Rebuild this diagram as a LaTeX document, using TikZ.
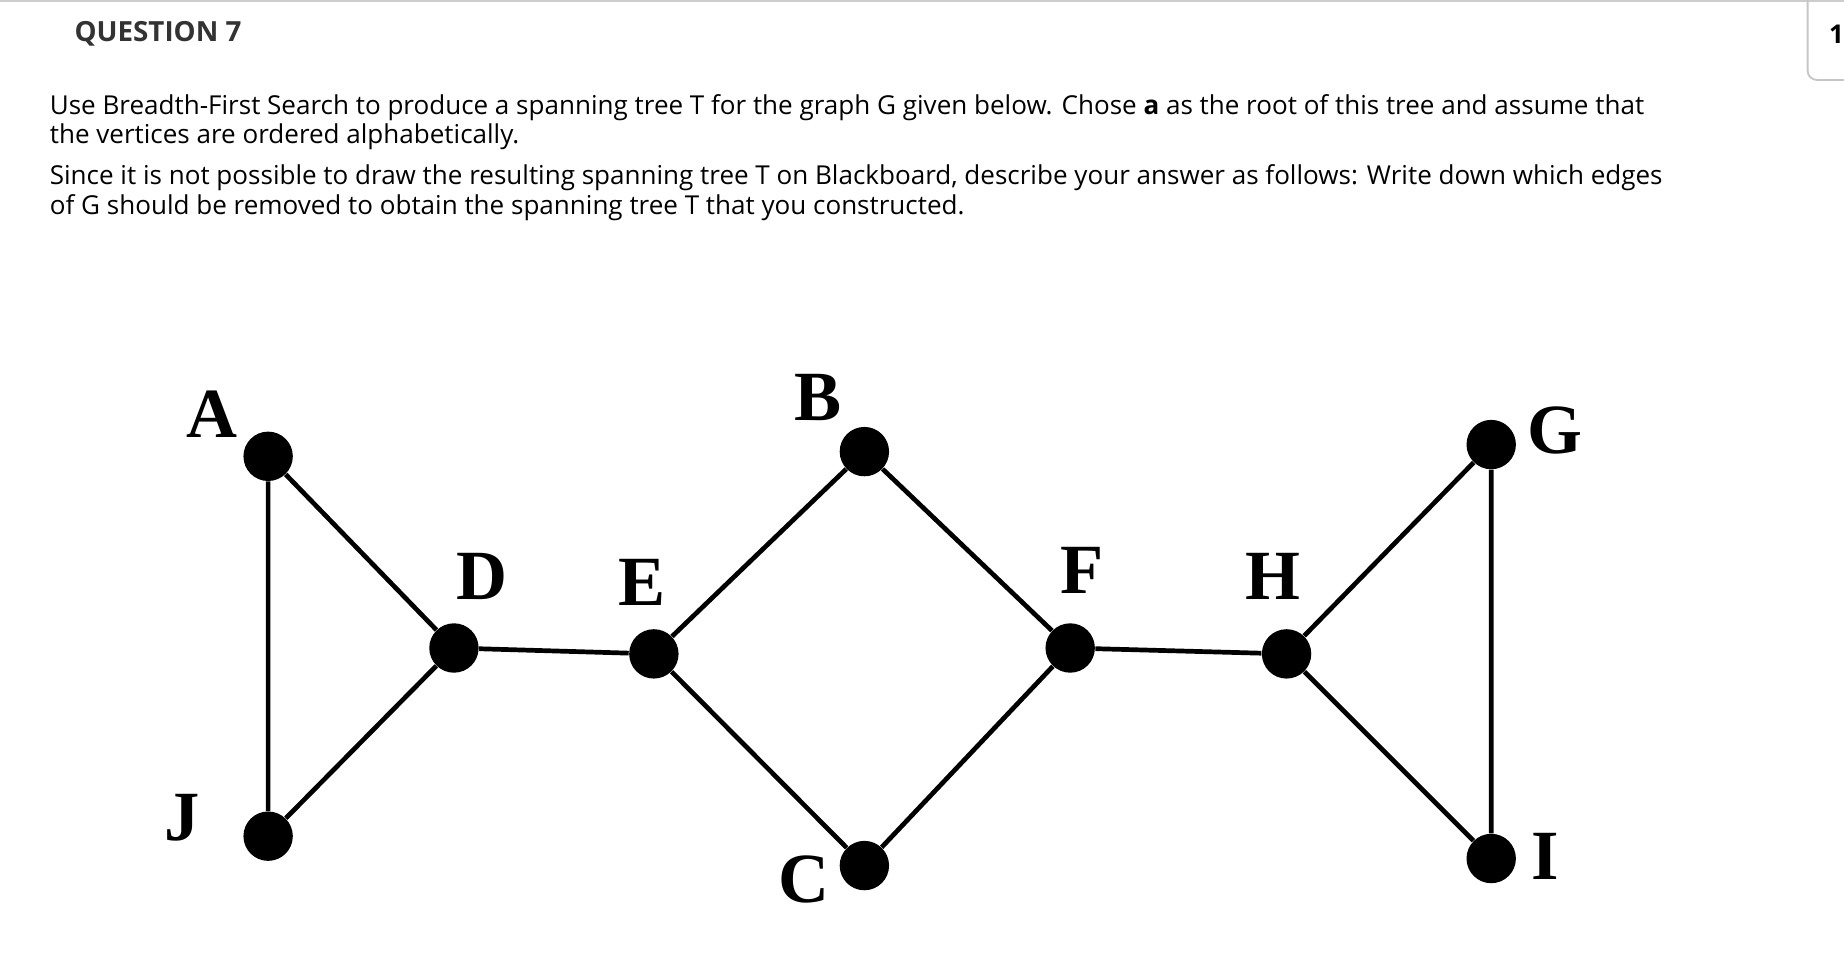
\documentclass[tikz,border=0pt]{standalone}
\usepackage{fontspec}
\setmainfont{Open Sans}
\newfontfamily\gfont{Liberation Serif}
\begin{document}
\begin{tikzpicture}[x=0.5pt,y=-0.5pt,
  vtx/.style={circle,fill=black,inner sep=0pt,minimum size=21pt},
  lbl/.style={font=\gfont\bfseries\fontsize{30}{30}\selectfont},
  txt/.style={anchor=base west,inner sep=0pt,font=\fontsize{11.07}{12}\selectfont}]
\useasboundingbox (0,0) rectangle (1568,811);
\draw[gray!40,line width=1pt] (0,1) -- (1568,1);
\draw[gray!45,line width=0.8pt,rounded corners=4pt] (1537,0) -- (1537,68) -- (1580,68);
\node[anchor=base west,inner sep=0pt,font=\bfseries\fontsize{11}{12}\selectfont] (q) at (1555,37) {1};
\node[anchor=base west,inner sep=0pt,font=\bfseries\fontsize{11.8}{13}\selectfont,text=black!80] (h) at (63,35) {QUESTION 7};
\node[txt] (t1) at (42,97) {Use Breadth-First Search to produce a spanning tree T for the graph G given below. Chose \textbf{a} as the root of this tree and assume that};
\node[txt] (t2) at (42,122) {the vertices are ordered alphabetically.};
\node[txt] (t3) at (42,157) {Since it is not possible to draw the resulting spanning tree T on Blackboard, describe your answer as follows: Write down which edges};
\node[txt] (t4) at (42,182) {of G should be removed to obtain the spanning tree T that you constructed.};
\node[vtx] (A) at (228,388) {};
\node[vtx] (B) at (735,384) {};
\node[vtx] (G) at (1268,378) {};
\node[vtx] (D) at (386,551) {};
\node[vtx] (E) at (556,556) {};
\node[vtx] (F) at (910,551) {};
\node[vtx] (H) at (1094,556) {};
\node[vtx] (J) at (228,711) {};
\node[vtx] (C) at (735,736) {};
\node[vtx] (I) at (1268,730) {};
\draw[line width=2pt] (A)--(J) (A)--(D) (J)--(D) (D)--(E) (E)--(B) (E)--(C) (B)--(F) (C)--(F) (F)--(H) (H)--(G) (H)--(I) (G)--(I);
\node[lbl] (la) at (180,352) {A};
\node[lbl] (lb) at (696,338) {B};
\node[lbl] (lg) at (1322,366) {G};
\node[lbl] (ld) at (410,490) {D};
\node[lbl] (le) at (546,495) {E};
\node[lbl] (lf) at (920,485) {F};
\node[lbl] (lh) at (1082,490) {H};
\node[lbl] (lj) at (155,695) {J};
\node[lbl] (lc) at (684,748) {C};
\node[lbl] (li) at (1314,728) {I};
\end{tikzpicture}
\end{document}
